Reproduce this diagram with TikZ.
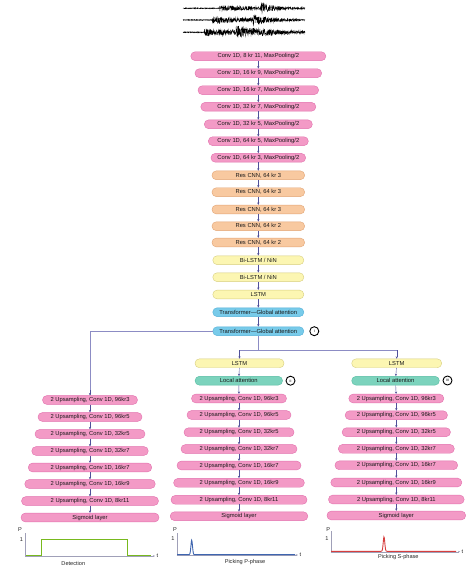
\documentclass[tikz,border=0pt]{standalone}
\usepackage{fontspec}
\setmainfont{Liberation Sans}
\usetikzlibrary{arrows.meta}
\definecolor{pinkF}{HTML}{F39AC6}
\definecolor{pinkD}{HTML}{E270AD}
\definecolor{oraF}{HTML}{F8C9A0}
\definecolor{oraD}{HTML}{E2A474}
\definecolor{yelF}{HTML}{FCF6B2}
\definecolor{yelD}{HTML}{D8CF80}
\definecolor{bluF}{HTML}{78CBEA}
\definecolor{bluD}{HTML}{52B0D8}
\definecolor{teaF}{HTML}{7CD3BD}
\definecolor{teaD}{HTML}{55BDA2}
\definecolor{arrC}{HTML}{50509A}
\definecolor{brC}{HTML}{8C8CC4}
\definecolor{axC}{HTML}{A0A0B8}
\definecolor{greenSig}{RGB}{120,185,30}
\definecolor{pC}{HTML}{3F66B0}
\definecolor{sC}{HTML}{D63E3E}
\begin{document}
\begin{tikzpicture}[x=1pt,y=-1pt,
  box/.style={rounded corners=4.3pt, minimum height=8.8pt, inner sep=0pt,
    font=\fontsize{5.8}{6}\selectfont, text=black!90, line width=0.4pt},
  pinkbox/.style={box, fill=pinkF, draw=pinkD},
  orabox/.style={box, fill=oraF, draw=oraD},
  yelbox/.style={box, fill=yelF, draw=yelD},
  blubox/.style={box, fill=bluF, draw=bluD},
  teabox/.style={box, fill=teaF, draw=teaD},
  arr/.style={-{Stealth[length=2.4pt,width=2.2pt]}, draw=arrC, line width=0.4pt},
  branch/.style={draw=brC, line width=0.7pt},
  circ/.style={circle, draw=black, line width=0.9pt, minimum size=9pt, inner sep=0pt,
    font=\fontsize{3.8}{4}\selectfont},
  lab/.style={font=\fontsize{5.6}{6}\selectfont, text=black!85, inner sep=0pt},
  axis/.style={draw=axC, line width=0.4pt},
  axarr/.style={axis, -{Stealth[length=2pt,width=1.8pt]}},
  wave/.style={draw=black, line width=0.35pt},
  sig/.style={line width=0.9pt},
  declare function={
    envA(\x)=0.45+(\x>219)*2.6*exp(-(\x-219)/45)+(\x>261)*5.2*exp(-(\x-261)/10);
    envB(\x)=0.45+(\x>212)*2.8*exp(-(\x-212)/50)+(\x>253)*5.2*exp(-(\x-253)/10);
    envC(\x)=0.45+(\x>204)*3.4*exp(-(\x-204)/60)+(\x>236)*4.6*exp(-(\x-236)/24);
    spk(\x,\c)=exp(-((\x-\c)/1.1)^2);
  }]
\useasboundingbox (0,0) rectangle (474,569);
\fill[white] (0,0) rectangle (474,569);

% waveforms
\pgfmathsetseed{11}
\draw[wave] plot[domain=183:305, samples=620] (\x, {8.3+envA(\x)*rand});
\draw[wave] plot[domain=183:305, samples=620] (\x, {20+envB(\x)*rand});
\draw[wave] plot[domain=183:305, samples=620] (\x, {32.3+envC(\x)*rand});

% encoder
\node[pinkbox, minimum width=135pt] (c1) at (258.3,56.2) {Conv 1D, 8 kr 11, MaxPooling/2};
\node[pinkbox, minimum width=126.7pt] (c2) at (258.3,73.2) {Conv 1D, 16 kr 9, MaxPooling/2};
\node[pinkbox, minimum width=120.6pt] (c3) at (258.3,90.2) {Conv 1D, 16 kr 7, MaxPooling/2};
\node[pinkbox, minimum width=115pt] (c4) at (258.3,106.8) {Conv 1D, 32 kr 7, MaxPooling/2};
\node[pinkbox, minimum width=108pt] (c5) at (258.3,124.3) {Conv 1D, 32 kr 5, MaxPooling/2};
\node[pinkbox, minimum width=100pt] (c6) at (258.3,141.2) {Conv 1D, 64 kr 5, MaxPooling/2};
\node[pinkbox, minimum width=94.7pt] (c7) at (258.3,157.8) {Conv 1D, 64 kr 3, MaxPooling/2};
\node[orabox, minimum width=92.7pt] (r1) at (258.3,175.3) {Res CNN, 64 kr 3};
\node[orabox, minimum width=92.7pt] (r2) at (258.3,192.2) {Res CNN, 64 kr 3};
\node[orabox, minimum width=92.7pt] (r3) at (258.3,209.5) {Res CNN, 64 kr 3};
\node[orabox, minimum width=92.7pt] (r4) at (258.3,226.2) {Res CNN, 64 kr 2};
\node[orabox, minimum width=92.7pt] (r5) at (258.3,242.5) {Res CNN, 64 kr 2};
\node[yelbox, minimum width=91pt] (b1) at (258.3,260.2) {Bi-LSTM / NiN};
\node[yelbox, minimum width=91pt] (b2) at (258.3,277.2) {Bi-LSTM / NiN};
\node[yelbox, minimum width=91pt] (l0) at (258.3,294.5) {LSTM};
\node[blubox, minimum width=91pt] (t1) at (258.3,312.2) {Transformer---Global attention};
\node[blubox, minimum width=91pt] (t2) at (258.3,331.2) {Transformer---Global attention};
\node[circ] (ci) at (314.3,331.2) {i};

\foreach \a/\b in {c1/c2,c2/c3,c3/c4,c4/c5,c5/c6,c6/c7,c7/r1,r1/r2,r2/r3,r3/r4,r4/r5,r5/b1,b1/b2,b2/l0,l0/t1,t1/t2}
  \draw[arr] (\a) -- (\b);

% decoder left (detection)
\node[pinkbox, minimum width=95pt] (d1) at (90,400) {2 Upsampling, Conv 1D, 96kr3};
\node[pinkbox, minimum width=104pt] (d2) at (90,417) {2 Upsampling, Conv 1D, 96kr5};
\node[pinkbox, minimum width=110pt] (d3) at (90,434) {2 Upsampling, Conv 1D, 32kr5};
\node[pinkbox, minimum width=116.5pt] (d4) at (90,451) {2 Upsampling, Conv 1D, 32kr7};
\node[pinkbox, minimum width=123.5pt] (d5) at (90,467.5) {2 Upsampling, Conv 1D, 16kr7};
\node[pinkbox, minimum width=130.5pt] (d6) at (90,484) {2 Upsampling, Conv 1D, 16kr9};
\node[pinkbox, minimum width=137pt] (d7) at (90,501) {2 Upsampling, Conv 1D, 8kr11};
\node[pinkbox, minimum width=138pt] (d8) at (90,517.5) {Sigmoid layer};

% decoder middle (P)
\node[yelbox, minimum width=89pt] (pl) at (239.5,363.3) {LSTM};
\node[teabox, minimum width=87.5pt] (pa) at (238.8,380.7) {Local attention};
\node[circ] (cii) at (290.5,380.7) {ii};
\node[pinkbox, minimum width=95pt] (p1) at (239,398.5) {2 Upsampling, Conv 1D, 96kr3};
\node[pinkbox, minimum width=104pt] (p2) at (239,415) {2 Upsampling, Conv 1D, 96kr5};
\node[pinkbox, minimum width=110pt] (p3) at (239,432.3) {2 Upsampling, Conv 1D, 32kr5};
\node[pinkbox, minimum width=116pt] (p4) at (239,449) {2 Upsampling, Conv 1D, 32kr7};
\node[pinkbox, minimum width=124pt] (p5) at (239,465.5) {2 Upsampling, Conv 1D, 16kr7};
\node[pinkbox, minimum width=130.7pt] (p6) at (239,482.8) {2 Upsampling, Conv 1D, 16kr9};
\node[pinkbox, minimum width=136pt] (p7) at (239,499.8) {2 Upsampling, Conv 1D, 8kr11};
\node[pinkbox, minimum width=137.6pt] (p8) at (239,516.2) {Sigmoid layer};

% decoder right (S)
\node[yelbox, minimum width=90pt] (sl) at (396.7,363.3) {LSTM};
\node[teabox, minimum width=87.6pt] (sa) at (395.5,380.7) {Local attention};
\node[circ] (ciii) at (447.5,380.5) {iii};
\node[pinkbox, minimum width=95pt] (s1) at (396.3,398.5) {2 Upsampling, Conv 1D, 96kr3};
\node[pinkbox, minimum width=102.3pt] (s2) at (396.3,415.2) {2 Upsampling, Conv 1D, 96kr5};
\node[pinkbox, minimum width=108.3pt] (s3) at (396.3,432.2) {2 Upsampling, Conv 1D, 32kr5};
\node[pinkbox, minimum width=116pt] (s4) at (396.3,448.8) {2 Upsampling, Conv 1D, 32kr7};
\node[pinkbox, minimum width=122.7pt] (s5) at (396.3,465.3) {2 Upsampling, Conv 1D, 16kr7};
\node[pinkbox, minimum width=131pt] (s6) at (396.3,482.5) {2 Upsampling, Conv 1D, 16kr9};
\node[pinkbox, minimum width=135.7pt] (s7) at (396.3,499.5) {2 Upsampling, Conv 1D, 8kr11};
\node[pinkbox, minimum width=138.7pt] (s8) at (396.3,515.5) {Sigmoid layer};

\foreach \a/\b in {d1/d2,d2/d3,d3/d4,d4/d5,d5/d6,d6/d7,d7/d8,
  pl/pa,pa/p1,p1/p2,p2/p3,p3/p4,p4/p5,p5/p6,p6/p7,p7/p8,
  sl/sa,sa/s1,s1/s2,s2/s3,s3/s4,s4/s5,s5/s6,s6/s7,s7/s8}
  \draw[arr] (\a) -- (\b);

% branches
\coordinate (j) at (258.3,350);
\draw[branch] (t2.west) -| (d1.north);
\draw[arr] (d1.north) ++(0,-5) -- (d1.north);
\draw[branch] (t2.south) -- (j);
\draw[branch] (pl.north |- j) -- (sl.north |- j);
\draw[arr] (pl.north |- j) -- (pl.north);
\draw[arr] (sl.north |- j) -- (sl.north);

% plot detection
\draw[axis] (25,556) -- (25,533);
\draw[axarr] (25,556) -- (155,556);
\node[lab, anchor=west] (tL) at (156.5,556) {t};
\node[lab] (pL) at (20,530) {P};
\node[lab] (oL) at (21.5,539.5) {1};
\draw[draw=greenSig, line width=1.1pt] (26,555.5) -- (41.5,555.5) -- (41.5,539.5) -- (127.5,539.5) -- (127.5,555.5) -- (151,555.5);
\node[lab] (nL) at (73.3,563) {Detection};

% plot P
\draw[axis] (176.7,555) -- (176.7,533);
\draw[axarr] (176.7,555) -- (298,555);
\node[lab, anchor=west] (tP) at (299.5,555) {t};
\node[lab] (pP) at (175,530) {P};
\node[lab] (oP) at (173,538.7) {1};
\draw[sig, draw=pC] plot[domain=177:295, samples=300] (\x, {554.6-14.5*spk(\x,191.7)});
\node[lab] (nP) at (245,562) {Picking P-phase};

% plot S
\draw[axis] (330.7,551.7) -- (330.7,531);
\draw[axarr] (330.7,551.7) -- (460,551.7);
\node[lab, anchor=west] (tS) at (461.5,551.7) {t};
\node[lab] (pS) at (328.3,529.3) {P};
\node[lab] (oS) at (327,538.3) {1};
\draw[sig, draw=sC] plot[domain=331:456, samples=320] (\x, {551.3-14.5*spk(\x,384)});
\node[lab] (nS) at (398.3,557.5) {Picking S-phase};
\end{tikzpicture}
\end{document}
